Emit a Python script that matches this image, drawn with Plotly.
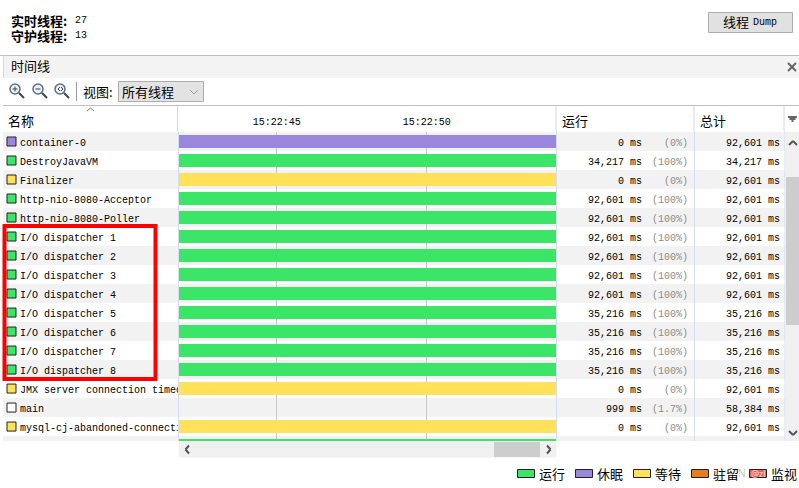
"""
VisualVM thread timeline screenshot rebuilt in Plotly
"""
import plotly.graph_objects as go

W, H = 799, 488
CJK = 'Noto Sans CJK SC'
MONO = 'Liberation Mono'

# Data
THREAD_NAMES = [
    'container-0', 'DestroyJavaVM', 'Finalizer', 'http-nio-8080-Acceptor', 'http-nio-8080-Poller',
    'I/O dispatcher 1', 'I/O dispatcher 2', 'I/O dispatcher 3', 'I/O dispatcher 4',
    'I/O dispatcher 5', 'I/O dispatcher 6', 'I/O dispatcher 7', 'I/O dispatcher 8',
    'JMX server connection timeout', 'main', 'mysql-cj-abandoned-connection-cleanup',
]
THREAD_STATES = [
    'sleeping', 'running', 'waiting', 'running', 'running',
    'running', 'running', 'running', 'running',
    'running', 'running', 'running', 'running',
    'waiting', 'finished', 'waiting',
]
RUN_MS = [0, 34217, 0, 92601, 92601, 92601, 92601, 92601, 92601,
          35216, 35216, 35216, 35216, 0, 999, 0]
RUN_PCT = ['(0%)', '(100%)', '(0%)', '(100%)', '(100%)', '(100%)', '(100%)', '(100%)', '(100%)',
           '(100%)', '(100%)', '(100%)', '(100%)', '(0%)', '(1.7%)', '(0%)']
TOTAL_MS = [92601, 34217, 92601, 92601, 92601, 92601, 92601, 92601, 92601,
            35216, 35216, 35216, 35216, 92601, 58384, 92601]

# the row under the last name is cut off by the viewport, only its bar top shows
CUT_OFF_ROW = 'next-thread'
CUT_OFF_STATE = 'running'

VIEW_START = '2021-01-01 15:22:41.743'
VIEW_END = '2021-01-01 15:22:54.310'
VIEW_MS = 12567
TICK_START = '2021-01-01 15:22:45'

STATE_COLORS = {
    'running': '#3AE568',
    'sleeping': '#9B86DD',
    'waiting': '#FFE25A',
    'finished': '#FFFFFF',
}
LEGEND_LABELS = ['运行', '休眠', '等待', '驻留', '监视']
LEGEND_COLORS = ['#3AE568', '#9B86DD', '#FFE25A', '#E77C1F', '#E96060']


def px_x(px):
    return px / W


def px_y(py):
    return 1 - py / H


fig = go.Figure()
shapes = []
annotations = []


def rect(x0, y0, x1, y1, fill=None, line=None, width=1, layer='below'):
    shapes.append(dict(
        type='rect', xref='paper', yref='paper', layer=layer,
        x0=px_x(x0), x1=px_x(x1), y0=px_y(y0), y1=px_y(y1),
        fillcolor=fill if fill else 'rgba(0,0,0,0)',
        line=dict(color=line if line else 'rgba(0,0,0,0)', width=width if line else 0),
    ))


def seg(x0, y0, x1, y1, color, width=1, layer='below'):
    shapes.append(dict(
        type='line', xref='paper', yref='paper', layer=layer,
        x0=px_x(x0), x1=px_x(x1), y0=px_y(y0), y1=px_y(y1),
        line=dict(color=color, width=width),
    ))


def circle(cx, cy, r, color, fill=None, width=1.5):
    shapes.append(dict(
        type='circle', xref='paper', yref='paper', layer='above',
        x0=px_x(cx - r), x1=px_x(cx + r), y0=px_y(cy - r), y1=px_y(cy + r),
        fillcolor=fill if fill else 'rgba(0,0,0,0)',
        line=dict(color=color, width=width),
    ))


def label(x, y, text, size=13, family=CJK, anchor='left', color='#000000', bold=False, yref='paper'):
    # y is the pixel centre for paper text, a thread name for table cells (those sit 2px low)
    annotations.append(dict(
        xref='paper', yref=yref, x=px_x(x - 1 if anchor == 'left' else x),
        y=px_y(y - 1) if yref == 'paper' else y,
        text=f'<b>{text}</b>' if bold else text,
        xanchor=anchor, yanchor='middle', showarrow=False, borderpad=0,
        yshift=0 if yref == 'paper' else -2,
        font=dict(family=family, size=size, color=color),
    ))


# Timeline bars, one trace per state
bar_names = THREAD_NAMES + [CUT_OFF_ROW]
bar_states = THREAD_STATES + [CUT_OFF_STATE]
for state in ['running', 'sleeping', 'waiting']:
    rows = [n for n, s in zip(bar_names, bar_states) if s == state]
    fig.add_trace(go.Bar(
        orientation='h', y=rows, x=[VIEW_MS] * len(rows), base=[VIEW_START] * len(rows),
        width=13 / 19, marker=dict(color=STATE_COLORS[state], line=dict(width=0)),
        name=state, showlegend=False, hoverinfo='y+name', xaxis='x', yaxis='y',
    ))

# Name column lives on its own x axis so long names clip like in the table
fig.add_trace(go.Scatter(
    x=[11.5] * len(THREAD_NAMES), y=THREAD_NAMES, mode='markers', xaxis='x2', yaxis='y',
    marker=dict(symbol='square', size=9, color=[STATE_COLORS[s] for s in THREAD_STATES],
                line=dict(color='#222222', width=1)),
    showlegend=False, hoverinfo='skip',
))
fig.add_trace(go.Scatter(
    x=[20] * len(THREAD_NAMES), y=THREAD_NAMES, mode='text', xaxis='x2', yaxis='y2',
    text=THREAD_NAMES, textposition='middle right',
    textfont=dict(family=MONO, size=10, color='#000000'),
    showlegend=False, hoverinfo='skip',
))

# Table stripes and column rules
ROW_TOP = 132
ROW_H = 19
TABLE_BOTTOM = 441
for i in range(0, len(bar_names), 2):
    rect(3, ROW_TOP + i * ROW_H, 785, min(ROW_TOP + (i + 1) * ROW_H, TABLE_BOTTOM), fill='#F2F2F2')
for cx in [178.5, 556.5, 694.5, 785]:
    seg(cx, 131, cx, TABLE_BOTTOM, '#D5DDF5')
for cx in [177.5, 556, 694, 784]:
    seg(cx, 106, cx, 131, '#D8D8D8')

# Number columns
for name, run, pct, total in zip(THREAD_NAMES, RUN_MS, RUN_PCT, TOTAL_MS):
    label(643, name, f'{run:,} ms', size=10, family=MONO, anchor='right', yref='y')
    label(689, name, pct, size=10, family=MONO, anchor='right', color='#8C8C8C', yref='y')
    label(781, name, f'{total:,} ms', size=10, family=MONO, anchor='right', yref='y')

# Top summary and button
label(11, 21, '实时线程:', bold=True)
label(75, 21, '27', size=10, family=MONO)
label(11, 36, '守护线程:', bold=True)
label(75, 36, '13', size=10, family=MONO)
rect(708.5, 12.5, 792.5, 32.5, fill='#E1E1E1', line='#ADADAD')
label(723, 23, '线程', size=13)
label(753, 24, 'Dump', size=10, family=MONO)

# Tab strip
rect(3, 56, W, 78, fill='#F3F3F3')
seg(0, 55.5, W, 55.5, '#C0C0C0')
seg(3.5, 55.5, 3.5, 78, '#D8D8D8')
label(11, 67, '时间线', size=13)
seg(788, 63, 796, 71, '#666666', 2, 'above')
seg(796, 63, 788, 71, '#666666', 2, 'above')

# Toolbar
for cx, cy in [(15, 89), (38, 89), (60, 89)]:
    circle(cx, cy, 5, '#5F6F7F', fill='#EAF2FA')
    seg(cx + 4, cy + 4, cx + 9, cy + 9, '#444444', 2, 'above')
seg(12.5, 89, 17.5, 89, '#404040', 1, 'above')
seg(15, 86.5, 15, 91.5, '#404040', 1, 'above')
seg(35.5, 89, 40.5, 89, '#404040', 1, 'above')
seg(60, 87, 58, 89, '#404040', 1, 'above')
seg(58, 89, 60, 91, '#404040', 1, 'above')
seg(61, 87, 63, 89, '#404040', 1, 'above')
seg(63, 89, 61, 91, '#404040', 1, 'above')
seg(76.5, 82, 76.5, 101, '#9A9A9A')
label(83, 92, '视图:', size=13)
rect(118.5, 81.5, 203.5, 101.5, fill='#E3E3E3', line='#ADADAD')
label(122, 92, '所有线程', size=13)
seg(190, 90, 194, 94, '#A0A0A0', 1, 'above')
seg(194, 94, 198, 90, '#A0A0A0', 1, 'above')

# Table header
seg(3, 105.5, W, 105.5, '#C0C0C0')
label(8, 121, '名称', size=13)
label(562, 121, '运行', size=13)
label(700, 121, '总计', size=13)
seg(87, 111, 90.5, 108, '#777777', 1, 'above')
seg(90.5, 108, 94, 111, '#777777', 1, 'above')
seg(788, 117, 797, 117, '#666666', 2, 'above')
seg(789.5, 119, 795.5, 119, '#666666', 2, 'above')
seg(791.5, 121, 793.5, 121, '#666666', 2, 'above')

# Scrollbars
rect(179, 441.5, 556.5, 457.5, fill='#F0F0F0')
rect(494, 442, 540, 457, fill='#CDCDCD')
seg(189, 445.5, 185.5, 449.5, '#555555', 2, 'above')
seg(185.5, 449.5, 189, 453.5, '#555555', 2, 'above')
seg(547, 445.5, 550.5, 449.5, '#555555', 2, 'above')
seg(550.5, 449.5, 547, 453.5, '#555555', 2, 'above')
rect(786, 132, W, 441, fill='#F0F0F0')
rect(786, 177, W, 325, fill='#CDCDCD')
seg(789, 145, 793, 141, '#555555', 2, 'above')
seg(793, 141, 797, 145, '#555555', 2, 'above')
seg(789, 431, 793, 435, '#555555', 2, 'above')
seg(793, 435, 797, 431, '#555555', 2, 'above')

# Legend strip at the bottom
for sw, text, color in zip([517, 575, 633, 691, 749], LEGEND_LABELS, LEGEND_COLORS):
    rect(sw + 0.5, 469.5, sw + 17.5, 477.5, fill=color, line='#222222', layer='above')
    label(sw + 22, 474, text, size=13)
label(738, 474, 'N', size=10, family='Noto Sans', color='rgba(140,140,140,0.55)')
label(751, 474, '@zl', size=9, family='Noto Sans', color='rgba(255,255,255,0.8)')

# Red highlight box
rect(4.5, 226, 155.5, 379, line='#FF0000', width=4, layer='above')

fig.update_layout(
    width=W, height=H, autosize=False,
    margin=dict(l=0, r=0, t=0, b=0),
    paper_bgcolor='#FFFFFF', plot_bgcolor='rgba(0,0,0,0)',
    barmode='overlay', bargap=0,
    font=dict(family=CJK, color='#000000'),
    shapes=shapes, annotations=annotations,
    xaxis=dict(
        type='date', domain=[px_x(179), px_x(556)], range=[VIEW_START, VIEW_END],
        side='top', anchor='y', tick0=TICK_START, dtick=5000, tickformat='%H:%M:%S',
        showgrid=True, gridcolor='#C8C8C8', gridwidth=1, zeroline=False, showline=False,
        ticks='', ticklabelstandoff=4,
        tickfont=dict(family=MONO, size=10, color='#000000'),
    ),
    xaxis2=dict(
        domain=[px_x(3), px_x(178)], range=[3, 178], anchor='y',
        visible=False, showgrid=False, zeroline=False, fixedrange=True,
    ),
    yaxis=dict(
        type='category', categoryorder='array', categoryarray=bar_names,
        domain=[px_y(TABLE_BOTTOM), px_y(ROW_TOP)], range=[15.76, -0.5], anchor='x',
        showgrid=False, zeroline=False, showline=False, showticklabels=False, ticks='',
    ),
    # same rows as y, 2px lower, only for the name text
    yaxis2=dict(
        type='category', categoryorder='array', categoryarray=bar_names,
        domain=[px_y(TABLE_BOTTOM + 2), px_y(ROW_TOP + 2)], range=[15.76, -0.5], anchor='x2',
        visible=False, showgrid=False, zeroline=False,
    ),
)

fig.write_html('out.html', config={'displayModeBar': False},
               post_script="document.body.style.margin='0';")
print('[OK] Saved: out.html')
